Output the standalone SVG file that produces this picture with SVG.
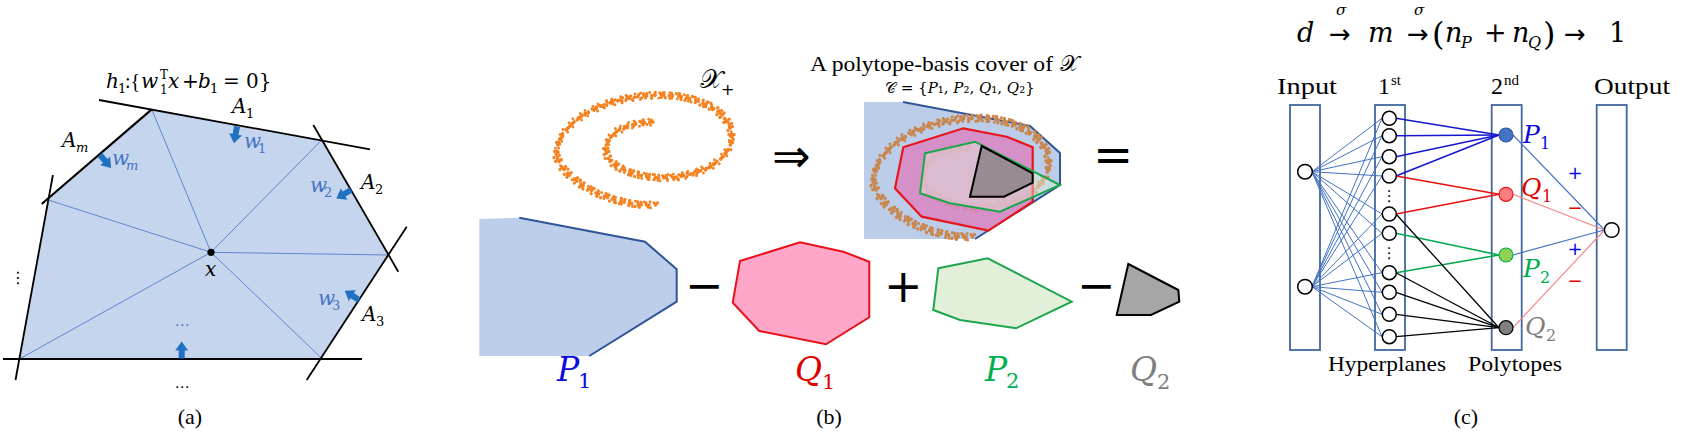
<svg xmlns="http://www.w3.org/2000/svg" width="1683" height="443" viewBox="0 0 1683 443">
<style>
.serif{font-family:"Liberation Serif","Times New Roman",serif;}
.math{font-family:"DejaVu Serif","Liberation Serif",serif;font-style:italic;}
.up{font-style:normal;}
.rs{font-family:"Liberation Serif","Times New Roman",serif;font-style:normal;}
.sym{font-family:"DejaVu Sans","Liberation Sans",sans-serif;font-style:normal;}
.bl{stroke:#000;stroke-width:1.8;fill:none;}
.fan{stroke:#4472C4;stroke-width:0.8;}
.wl{fill:#4472C4;}
.col{fill:#fff;stroke:#41679F;stroke-width:1.8;}
.hn{fill:#fff;stroke:#000;stroke-width:1.5;}
.ein{stroke:#4472C4;stroke-width:1;}
.ep{stroke:#1515D0;stroke-width:1.5;}
.eq{stroke:#E81010;stroke-width:1.5;}
.eg{stroke:#00A650;stroke-width:1.5;}
.ek{stroke:#000;stroke-width:1.3;}
.eo{stroke:#4472C4;stroke-width:1.2;}
.er{stroke:#F4868A;stroke-width:1.2;}
</style>
<defs>
<path id="barrow" d="M-3,0 L3,0 L3,-8 L6.5,-8 L0,-17 L-6.5,-8 L-3,-8 Z" fill="#1F72C2"/>
<path id="spiral" d="M653,122 L640,123 L628,126 L617,131 L609,139 L605,148 L608,158 L616,166 L628,172 L643,176 L660,178 L678,177 L695,173 L710,167 L722,158 L730,147 L732,136 L729,124 L721,114 L710,106 L695,100 L678,96 L660,95 L642,96 L624,99 L606,104 L590,111 L576,120 L565,131 L558,143 L556,155 L561,166 L570,176 L582,185 L596,193 L612,199 L628,203 L643,205 L656,205"/>
<g id="dots" fill="none" stroke-linecap="round">
<use href="#spiral" stroke-width="3.6" stroke-dasharray="0.1 3.1 0.1 5.2 0.1 2.4 0.1 6.3"/>
<use href="#spiral" stroke-width="3.2" stroke-dasharray="0.1 4.7 0.1 8.1 0.1 3.3" stroke-dashoffset="1" transform="translate(2.2,-2.2)"/>
<use href="#spiral" stroke-width="3.2" stroke-dasharray="0.1 6.2 0.1 3.9 0.1 9.4" stroke-dashoffset="2.5" transform="translate(-2.2,2.2)"/>
<use href="#spiral" stroke-width="2.8" stroke-dasharray="0.1 7.3 0.1 11" stroke-dashoffset="4" transform="translate(1,3)"/>
<use href="#spiral" stroke-width="2.8" stroke-dasharray="0.1 9 0.1 5.5" stroke-dashoffset="6" transform="translate(-1.2,-3)"/>
</g>
</defs>

<!-- Panel (a) -->
<g id="panel-a">
<polygon points="151.7,109.3 321.7,140 388.3,255 321.7,358.3 19.3,359 48.3,200" fill="#C5D5EE"/>
<g class="fan">
<line x1="211" y1="252.3" x2="151.7" y2="109.3"/>
<line x1="211" y1="252.3" x2="321.7" y2="140"/>
<line x1="211" y1="252.3" x2="388.3" y2="255"/>
<line x1="211" y1="252.3" x2="321.7" y2="358.3"/>
<line x1="211" y1="252.3" x2="19.3" y2="359"/>
<line x1="211" y1="252.3" x2="48.3" y2="200"/>
</g>
<g class="bl">
<line x1="99" y1="100" x2="370" y2="149.3"/>
<line x1="313.3" y1="125" x2="398.3" y2="271.7"/>
<line x1="406.7" y1="226.7" x2="306.7" y2="380"/>
<line x1="3" y1="359" x2="362" y2="359"/>
<line x1="52.9" y1="175" x2="15.5" y2="380"/>
<line x1="41.7" y1="204" x2="151.7" y2="109.3" stroke-width="2.2"/>
</g>
<circle cx="211" cy="252.3" r="3.6" fill="#000"/>
<use href="#barrow" transform="translate(181.7,358.5)"/>
<use href="#barrow" transform="translate(237,126.5) rotate(190.3)"/>
<use href="#barrow" transform="translate(100,155) rotate(139.4)"/>
<use href="#barrow" transform="translate(351,190) rotate(-120.1)"/>
<use href="#barrow" transform="translate(359,300) rotate(-56.9)"/>
<text class="math" font-size="20"><tspan x="106" y="88">h</tspan><tspan class="up" x="118" y="93" font-size="13">1</tspan><tspan class="rs" x="125" y="88">:{</tspan><tspan x="141" y="88">w</tspan><tspan class="up" x="160" y="79" font-size="12">T</tspan><tspan class="up" x="160" y="94" font-size="12">1</tspan><tspan x="168" y="88">x</tspan><tspan class="up" x="182" y="88">+</tspan><tspan x="198" y="88">b</tspan><tspan class="up" x="210" y="93" font-size="13">1</tspan><tspan class="up" x="223" y="88">=</tspan><tspan class="up" x="246" y="88">0}</tspan></text>
<text class="math" font-size="20"><tspan x="232" y="113">A</tspan><tspan class="up" x="246" y="118" font-size="13">1</tspan></text>
<text class="math" font-size="20"><tspan x="62" y="147">A</tspan><tspan x="76" y="152" font-size="13">m</tspan></text>
<text class="math" font-size="20"><tspan x="361" y="189">A</tspan><tspan class="up" x="375" y="194" font-size="13">2</tspan></text>
<text class="math" font-size="20"><tspan x="362" y="321">A</tspan><tspan class="up" x="376" y="326" font-size="13">3</tspan></text>
<text class="math wl" font-size="20"><tspan x="244" y="148">w</tspan><tspan class="up" x="258" y="153" font-size="13">1</tspan></text>
<text class="math wl" font-size="20"><tspan x="112" y="165">w</tspan><tspan x="126" y="170" font-size="13">m</tspan></text>
<text class="math wl" font-size="20"><tspan x="310" y="192">w</tspan><tspan class="up" x="324" y="197" font-size="13">2</tspan></text>
<text class="math wl" font-size="20"><tspan x="318" y="305">w</tspan><tspan class="up" x="332" y="310" font-size="13">3</tspan></text>
<text class="math" font-size="20" x="205" y="276">x</text>
<text class="sym" font-size="16" x="10" y="283">⋮</text>
<text class="sym wl" font-size="15" x="182" y="330" text-anchor="middle">⋯</text>
<text class="sym" font-size="15" x="182" y="392" text-anchor="middle">⋯</text>
</g>

<!-- Panel (b) -->
<g id="panel-b">
<use href="#dots" stroke="#F5821F"/>
<text class="math up" font-size="26" x="700" y="88">𝒳</text>
<text class="sym" font-size="16" x="721" y="95">+</text>
<text class="sym" font-size="46" x="772" y="172">⇒</text>
<text class="serif" font-size="22" x="810" y="71" textLength="243" lengthAdjust="spacingAndGlyphs">A polytope-basis cover of</text>
<text class="math up" font-size="22" x="1060" y="71">𝒳</text>
<text class="math" font-size="15" x="885" y="93"><tspan class="up">𝒞</tspan><tspan class="up"> = {</tspan>P<tspan class="up">₁</tspan><tspan class="up">, </tspan>P<tspan class="up">₂</tspan><tspan class="up">, </tspan>Q<tspan class="up">₁</tspan><tspan class="up">, </tspan>Q<tspan class="up">₂</tspan><tspan class="up">}</tspan></text>
<g id="cover">
<polygon points="864,102 903,102 1030,126 1060,153 1060,185 975,239 864,239" fill="#BCCDE9"/>
<polyline points="903,102 1030,126 1060,153 1060,185 975,239" fill="none" stroke="#2F5597" stroke-width="2"/>
<use href="#dots" stroke="#C9874F" transform="matrix(1,0,0,1.08,317,15.4)"/>
<polygon points="903.3,147.3 963.3,128.3 1006.7,136.7 1032.7,147.3 1032.7,201.7 988.3,230.7 921.7,216.7 895,188.3" fill="#D985C2" fill-opacity="0.85" stroke="#E8151B" stroke-width="2.2"/>
<polygon points="925,153.3 975,141.7 1060,185 1000,211.7 950,203.3 920,193.3" fill="#E2F0D9" fill-opacity="0.45" stroke="#1CA64C" stroke-width="2"/>
<polygon points="981.7,146 1032.7,173.3 1032.7,182.7 1004,196.7 970,196.7" fill="#6B6B6B" fill-opacity="0.6" stroke="#000" stroke-width="2"/>
</g>
<text class="sym" font-size="48" x="1093" y="171">=</text>
<polygon points="479.3,219 519.3,217.7 645,241.7 676.7,269.3 676.7,301.7 589.3,356 479.3,356" fill="#BDCEEA"/>
<polyline points="519.3,217.7 645,241.7 676.7,269.3 676.7,301.7 589.3,356" fill="none" stroke="#2F5597" stroke-width="2"/>
<text class="sym" font-size="46" x="685" y="301">−</text>
<polygon points="740,261 800,242.3 843.3,251.7 869.3,261.7 869.3,317.3 826,344.3 759.3,331 732.7,302.7" fill="#FFA6C9" stroke="#E8111B" stroke-width="2"/>
<text class="sym" font-size="46" x="884" y="302">+</text>
<polygon points="938.3,268.3 987.7,258.3 1071.7,301.7 1016,328.3 960,320 933.3,310" fill="#E2EFD9" stroke="#1CA64C" stroke-width="2"/>
<text class="sym" font-size="46" x="1077" y="301">−</text>
<polygon points="1128.3,264 1178.3,290 1179.3,301.7 1151,315 1116.7,315" fill="#A6A6A6" stroke="#000" stroke-width="2"/>
<text class="math" font-size="33" fill="#0A0ADC"><tspan x="557" y="381">P</tspan><tspan class="up" x="578" y="388" font-size="21">1</tspan></text>
<text class="math" font-size="33" fill="#E00000"><tspan x="795" y="381">Q</tspan><tspan class="up" x="822" y="389" font-size="21">1</tspan></text>
<text class="math" font-size="33" fill="#00B050"><tspan x="985" y="381">P</tspan><tspan class="up" x="1006" y="388" font-size="21">2</tspan></text>
<text class="math" font-size="33" fill="#7F7F7F"><tspan x="1130" y="381">Q</tspan><tspan class="up" x="1157" y="389" font-size="21">2</tspan></text>
</g>

<!-- Panel (c) -->
<g id="panel-c">
<text class="math" font-size="27"><tspan x="1297" y="42">d</tspan><tspan x="1368" y="42">m</tspan><tspan class="up" x="1432" y="45" font-size="32">(</tspan><tspan x="1445" y="42">n</tspan><tspan x="1461" y="48" font-size="16">P</tspan><tspan class="up" x="1484" y="42">+</tspan><tspan x="1512" y="42">n</tspan><tspan x="1528" y="48" font-size="16">Q</tspan><tspan class="up" x="1543" y="45" font-size="32">)</tspan><tspan class="up" x="1609" y="42">1</tspan></text>
<text class="sym" font-size="26" x="1329" y="43">→</text>
<text class="sym" font-size="26" x="1407" y="43">→</text>
<text class="sym" font-size="26" x="1564" y="43">→</text>
<text class="math" font-size="15" x="1341" y="15" text-anchor="middle">σ</text>
<text class="math" font-size="15" x="1419" y="15" text-anchor="middle">σ</text>
<text class="serif" font-size="24" x="1277" y="94" textLength="60" lengthAdjust="spacingAndGlyphs">Input</text>
<text class="serif" font-size="24"><tspan x="1378" y="94">1</tspan><tspan x="1391" y="85" font-size="15">st</tspan></text>
<text class="serif" font-size="24"><tspan x="1491" y="94">2</tspan><tspan x="1504" y="85" font-size="15">nd</tspan></text>
<text class="serif" font-size="24" x="1594" y="94" textLength="76" lengthAdjust="spacingAndGlyphs">Output</text>
<g id="columns">
<rect class="col" x="1290" y="105" width="30" height="245"/>
<rect class="col" x="1375" y="105" width="30" height="245"/>
<rect class="col" x="1491.7" y="105" width="30" height="245"/>
<rect class="col" x="1596.7" y="105" width="30" height="245"/>
</g>
<g id="connectors">
<g class="ein">
<line x1="1312" y1="171.7" x2="1382" y2="118.3"/><line x1="1312" y1="171.7" x2="1382" y2="135.7"/><line x1="1312" y1="171.7" x2="1382" y2="156.7"/><line x1="1312" y1="171.7" x2="1382" y2="176"/><line x1="1312" y1="171.7" x2="1382" y2="214"/><line x1="1312" y1="171.7" x2="1382" y2="233.3"/><line x1="1312" y1="171.7" x2="1382" y2="272.7"/><line x1="1312" y1="171.7" x2="1382" y2="292.3"/><line x1="1312" y1="171.7" x2="1382" y2="314.3"/><line x1="1312" y1="171.7" x2="1382" y2="336.7"/>
<line x1="1312" y1="286.7" x2="1382" y2="118.3"/><line x1="1312" y1="286.7" x2="1382" y2="135.7"/><line x1="1312" y1="286.7" x2="1382" y2="156.7"/><line x1="1312" y1="286.7" x2="1382" y2="176"/><line x1="1312" y1="286.7" x2="1382" y2="214"/><line x1="1312" y1="286.7" x2="1382" y2="233.3"/><line x1="1312" y1="286.7" x2="1382" y2="272.7"/><line x1="1312" y1="286.7" x2="1382" y2="292.3"/><line x1="1312" y1="286.7" x2="1382" y2="314.3"/><line x1="1312" y1="286.7" x2="1382" y2="336.7"/>
</g>
<g class="ep">
<line x1="1396" y1="118.3" x2="1499" y2="135"/><line x1="1396" y1="135.7" x2="1499" y2="135"/><line x1="1396" y1="156.7" x2="1499" y2="135"/><line x1="1396" y1="176" x2="1499" y2="135"/>
</g>
<g class="eq">
<line x1="1396" y1="176" x2="1499" y2="194.3"/><line x1="1396" y1="214" x2="1499" y2="194.3"/>
</g>
<g class="eg">
<line x1="1396" y1="233.3" x2="1499" y2="255"/><line x1="1396" y1="272.7" x2="1499" y2="255"/>
</g>
<g class="ek">
<line x1="1396" y1="214" x2="1499" y2="327.7"/><line x1="1396" y1="272.7" x2="1499" y2="327.7"/><line x1="1396" y1="292.3" x2="1499" y2="327.7"/><line x1="1396" y1="314.3" x2="1499" y2="327.7"/><line x1="1396" y1="336.7" x2="1499" y2="327.7"/>
</g>
<line class="eo" x1="1513" y1="135" x2="1604.5" y2="230"/>
<line class="er" x1="1513" y1="194.3" x2="1604.5" y2="230"/>
<line class="eo" x1="1513" y1="255" x2="1604.5" y2="230"/>
<line class="er" x1="1513" y1="327.7" x2="1604.5" y2="230"/>
</g>
<g id="input-nodes">
<circle class="hn" cx="1305" cy="171.7" r="7.3"/>
<circle class="hn" cx="1305" cy="286.7" r="7.3"/>
</g>
<g id="hidden-nodes">
<circle class="hn" cx="1389.3" cy="118.3" r="7"/><circle class="hn" cx="1389.3" cy="135.7" r="7"/><circle class="hn" cx="1389.3" cy="156.7" r="7"/><circle class="hn" cx="1389.3" cy="176" r="7"/><circle class="hn" cx="1389.3" cy="214" r="7"/><circle class="hn" cx="1389.3" cy="233.3" r="7"/><circle class="hn" cx="1389.3" cy="272.7" r="7"/><circle class="hn" cx="1389.3" cy="292.3" r="7"/><circle class="hn" cx="1389.3" cy="314.3" r="7"/><circle class="hn" cx="1389.3" cy="336.7" r="7"/>
<text class="sym" font-size="15" x="1389.3" y="201" text-anchor="middle">⋮</text>
<text class="sym" font-size="15" x="1389.3" y="258" text-anchor="middle">⋮</text>
</g>
<g id="node-P1"><circle cx="1506" cy="135" r="7" fill="#4472C4" stroke="#2F5597" stroke-width="1.2"/><text class="math" font-size="25" fill="#0A0ADC"><tspan x="1523" y="143">P</tspan><tspan class="up" x="1540" y="149" font-size="16">1</tspan></text></g>
<g id="node-Q1"><circle cx="1506" cy="194.3" r="7" fill="#FF7C80" stroke="#E81010" stroke-width="1.2"/><text class="math" font-size="25" fill="#E00000"><tspan x="1521" y="196">Q</tspan><tspan class="up" x="1542" y="202" font-size="16">1</tspan></text></g>
<g id="node-P2"><circle cx="1506" cy="255" r="7" fill="#92D050" stroke="#00B050" stroke-width="1.2"/><text class="math" font-size="25" fill="#00B050"><tspan x="1523" y="277">P</tspan><tspan class="up" x="1540" y="283" font-size="16">2</tspan></text></g>
<g id="node-Q2"><circle cx="1506" cy="327.7" r="7" fill="#7F7F7F" stroke="#000" stroke-width="1.2"/><text class="math" font-size="25" fill="#7F7F7F"><tspan x="1525" y="335">Q</tspan><tspan class="up" x="1546" y="341" font-size="16">2</tspan></text></g>
<g id="node-out"><circle class="hn" cx="1611.7" cy="230" r="7.3"/></g>
<text class="sym" font-size="18" fill="#0A0ADC" x="1575" y="179" text-anchor="middle">+</text>
<text class="sym" font-size="18" fill="#E00000" x="1575" y="214" text-anchor="middle">−</text>
<text class="sym" font-size="18" fill="#0A0ADC" x="1575" y="255" text-anchor="middle">+</text>
<text class="sym" font-size="18" fill="#E00000" x="1575" y="287" text-anchor="middle">−</text>
<text class="serif" font-size="22" x="1328" y="371" textLength="118" lengthAdjust="spacingAndGlyphs">Hyperplanes</text>
<text class="serif" font-size="22" x="1468" y="371" textLength="94" lengthAdjust="spacingAndGlyphs">Polytopes</text>
</g>

<text class="serif" font-size="22" x="190" y="424" text-anchor="middle">(a)</text>
<text class="serif" font-size="22" x="829" y="424" text-anchor="middle">(b)</text>
<text class="serif" font-size="22" x="1466" y="424" text-anchor="middle">(c)</text>
</svg>
